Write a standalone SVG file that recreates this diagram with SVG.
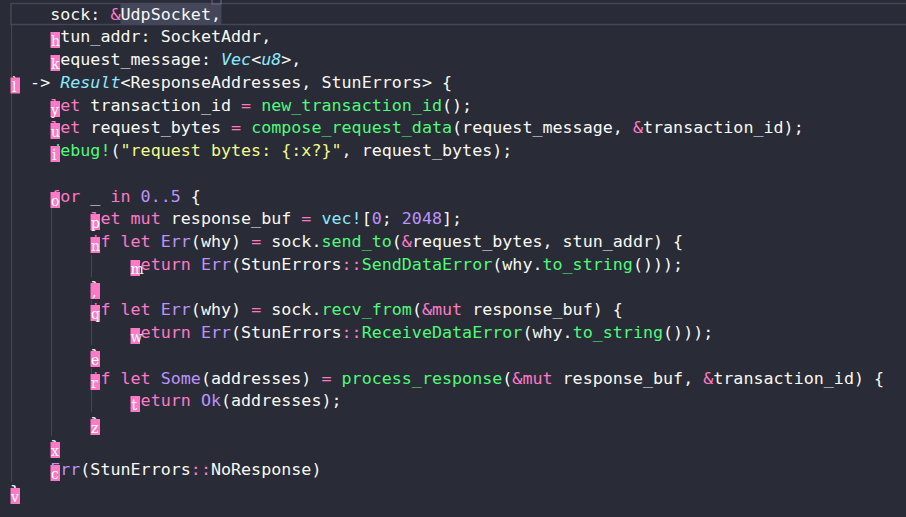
<svg xmlns="http://www.w3.org/2000/svg" width="906" height="517" viewBox="0 0 906 517">
<style>
text.c{font-family:"DejaVu Sans Mono",monospace;font-size:16.7px;fill:#f8f8f2;white-space:pre}
.k{fill:#ff79c6}.f{fill:#50fa7b}.t{fill:#8be9fd;font-style:italic}.p{fill:#bd93f9}.s{fill:#f1fa8c}.v{fill:#8be9fd}
.h{fill:#ff79c6}
text.l{font-family:"DejaVu Serif",serif;font-size:14px;fill:#ffffff}
.g{stroke:#44475a;stroke-width:1}
</style>
<rect width="906" height="517" fill="#292b36"/>
<g id="guides">
<line class="g" x1="11.5" y1="25" x2="11.5" y2="482"/>
<line class="g" x1="51.5" y1="208" x2="51.5" y2="436"/>
<line class="g" x1="91.5" y1="255" x2="91.5" y2="277"/>
<line class="g" x1="91.5" y1="300" x2="91.5" y2="345"/>
<line class="g" x1="91.5" y1="368" x2="91.5" y2="412"/>
</g>
<g id="current-line">
<rect x="11" y="3.5" width="900" height="21" fill="none" stroke="#44475a" stroke-width="1.5"/>
<rect x="120.5" y="4" width="101" height="20" fill="#44475a"/>
<rect x="212" y="-1" width="9" height="5" fill="none" stroke="#6b6e80" stroke-width="1"/>
</g>
<g id="code">
<text class="c" x="10" y="19.5">    sock: <tspan class="k">&amp;</tspan>UdpSocket,</text>
<text class="c" x="10" y="42.3">    stun_addr: SocketAddr,</text>
<text class="c" x="10" y="65">    request_message: <tspan class="t">Vec</tspan>&lt;<tspan class="t">u8</tspan>&gt;,</text>
<text class="c" x="10" y="87.8">) -&gt; <tspan class="t">Result</tspan>&lt;ResponseAddresses, StunErrors&gt; {</text>
<text class="c" x="10" y="110.5">    <tspan class="k">let</tspan> transaction_id <tspan class="k">=</tspan> <tspan class="f">new_transaction_id</tspan>();</text>
<text class="c" x="10" y="133.3">    <tspan class="k">let</tspan> request_bytes <tspan class="k">=</tspan> <tspan class="f">compose_request_data</tspan>(request_message, <tspan class="k">&amp;</tspan>transaction_id);</text>
<text class="c" x="10" y="156">    <tspan class="f">debug!</tspan>(<tspan class="s">"request bytes: {:x?}"</tspan>, request_bytes);</text>
<text class="c" x="10" y="201.5">    <tspan class="k">for</tspan> _ <tspan class="k">in</tspan> <tspan class="p">0..5</tspan> {</text>
<text class="c" x="10" y="224.3">        <tspan class="k">let mut</tspan> response_buf <tspan class="k">=</tspan> <tspan class="v">vec!</tspan>[<tspan class="p">0</tspan>; <tspan class="p">2048</tspan>];</text>
<text class="c" x="10" y="247">        <tspan class="k">if let</tspan> <tspan class="p">Err</tspan>(why) <tspan class="k">=</tspan> sock.<tspan class="f">send_to</tspan>(<tspan class="k">&amp;</tspan>request_bytes, stun_addr) {</text>
<text class="c" x="10" y="269.8">            <tspan class="k">return</tspan> <tspan class="p">Err</tspan>(StunErrors<tspan class="k">::</tspan><tspan class="f">SendDataError</tspan>(why.<tspan class="f">to_string</tspan>()));</text>
<text class="c" x="10" y="292.5">        }</text>
<text class="c" x="10" y="315.3">        <tspan class="k">if let</tspan> <tspan class="p">Err</tspan>(why) <tspan class="k">=</tspan> sock.<tspan class="f">recv_from</tspan>(<tspan class="k">&amp;mut</tspan> response_buf) {</text>
<text class="c" x="10" y="338">            <tspan class="k">return</tspan> <tspan class="p">Err</tspan>(StunErrors<tspan class="k">::</tspan><tspan class="f">ReceiveDataError</tspan>(why.<tspan class="f">to_string</tspan>()));</text>
<text class="c" x="10" y="360.8">        }</text>
<text class="c" x="10" y="383.5">        <tspan class="k">if let</tspan> <tspan class="p">Some</tspan>(addresses) <tspan class="k">=</tspan> <tspan class="f">process_response</tspan>(<tspan class="k">&amp;mut</tspan> response_buf, <tspan class="k">&amp;</tspan>transaction_id) {</text>
<text class="c" x="10" y="406.3">            <tspan class="k">return</tspan> <tspan class="p">Ok</tspan>(addresses);</text>
<text class="c" x="10" y="429">        }</text>
<text class="c" x="10" y="451.8">    }</text>
<text class="c" x="10" y="474.5">    <tspan class="p">Err</tspan>(StunErrors<tspan class="k">::</tspan>NoResponse)</text>
<text class="c" x="10" y="497.3">}</text>
</g>
<g id="hints">
<g><rect class="h" x="50.5" y="32" width="9.5" height="16"/><text class="l" x="51" y="46">h</text></g>
<g><rect class="h" x="50.5" y="55" width="9.5" height="16"/><text class="l" x="51" y="69">k</text></g>
<g><rect class="h" x="10.5" y="77.5" width="9.5" height="16"/><text class="l" x="12" y="92">l</text></g>
<g><rect class="h" x="50.5" y="101" width="9.5" height="16"/><text class="l" x="51" y="115">y</text></g>
<g><rect class="h" x="50.5" y="123" width="9.5" height="16"/><text class="l" x="51" y="137">u</text></g>
<g><rect class="h" x="50.5" y="146" width="9.5" height="16"/><text class="l" x="52" y="160">i</text></g>
<g><rect class="h" x="50.5" y="192" width="9.5" height="16"/><text class="l" x="51" y="206">o</text></g>
<g><rect class="h" x="90.5" y="214" width="9.5" height="16"/><text class="l" x="91" y="228">p</text></g>
<g><rect class="h" x="90.5" y="237" width="9.5" height="16"/><text class="l" x="91" y="251">n</text></g>
<g><rect class="h" x="130.5" y="260" width="9.5" height="16"/><text class="l" x="130.5" y="274">m</text></g>
<g><rect class="h" x="90.5" y="283" width="9.5" height="16"/><text class="l" x="92" y="297">,</text></g>
<g><rect class="h" x="90.5" y="305" width="9.5" height="16"/><text class="l" x="91" y="319">q</text></g>
<g><rect class="h" x="130.5" y="328" width="9.5" height="16"/><text class="l" x="130.5" y="342">w</text></g>
<g><rect class="h" x="90.5" y="351" width="9.5" height="16"/><text class="l" x="91" y="365">e</text></g>
<g><rect class="h" x="90.5" y="374" width="9.5" height="16"/><text class="l" x="91" y="388">r</text></g>
<g><rect class="h" x="130.5" y="396" width="9.5" height="16"/><text class="l" x="131.5" y="410">t</text></g>
<g><rect class="h" x="90.5" y="419" width="9.5" height="16"/><text class="l" x="91" y="433">z</text></g>
<g><rect class="h" x="50.5" y="442" width="9.5" height="16"/><text class="l" x="51" y="456">x</text></g>
<g><rect class="h" x="50.5" y="465" width="9.5" height="16"/><text class="l" x="51" y="479">c</text></g>
<g><rect class="h" x="10.5" y="488" width="9.5" height="16"/><text class="l" x="11" y="502">v</text></g>
</g>
</svg>
